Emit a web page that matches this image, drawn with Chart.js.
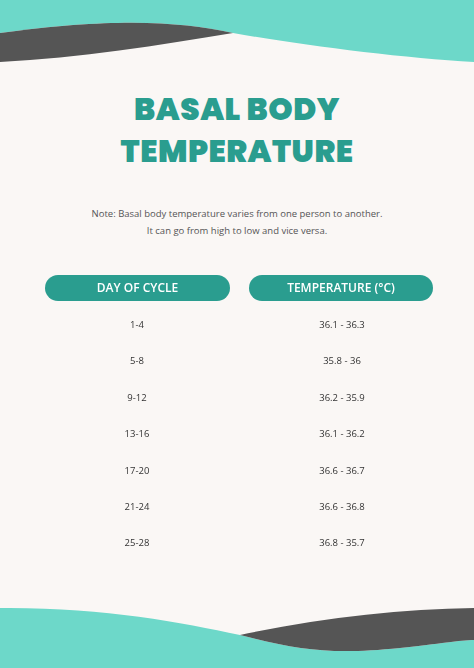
<!DOCTYPE html>
<html><head><meta charset="utf-8">
<script src="https://cdn.jsdelivr.net/npm/chart.js@4"></script>
<style>
html,body{margin:0;padding:0;width:474px;height:668px;background:#faf7f5;overflow:hidden;font-family:"Open Sans",sans-serif}
#bg{position:absolute;left:0;top:0}
h1{position:absolute;top:88px;left:0;width:474px;margin:0;text-align:center;color:#2a9d8f;font-family:Poppins,"Montserrat",Lato,sans-serif;font-weight:900;font-size:31px;line-height:42px;letter-spacing:0.5px}
.note{position:absolute;top:205px;left:0;width:474px;text-align:center;color:#555;font-size:9.5px;line-height:17px}
#wrap{position:absolute;left:0;top:262px;width:474px;height:300px}
</style></head><body>
<svg id="bg" width="474" height="668">
<path d="M0 0H474V62C400 58 300 45 233 33C180 22 120 17 0 33Z" fill="#6dd8c9"/>
<path d="M0 33C120 17 180 22 233 33C160 45 80 58 0 62Z" fill="#555555"/>
<path d="M0 608C100 607 180 622 240 635C300 650 330 655 400 648C440 644 460 640 474 640V668H0Z" fill="#6dd8c9"/>
<path d="M240 635C320 618 400 609 474 608V640C460 640 440 644 400 648C330 655 300 650 240 635Z" fill="#555555"/>
</svg>
<h1>BASAL BODY<br>TEMPERATURE</h1>
<div class="note">Note: Basal body temperature varies from one person to another.<br>It can go from high to low and vice versa.</div>
<div id="wrap"><canvas id="c"></canvas></div>
<script>
const headers = ["DAY OF CYCLE", "TEMPERATURE (°C)"];
const days = ["1-4","5-8","9-12","13-16","17-20","21-24","25-28"];
const temps = ["36.1 - 36.3","35.8 - 36","36.2 - 35.9","36.1 - 36.2","36.6 - 36.7","36.6 - 36.8","36.8 - 35.7"];

const tablePlugin = {
  id:'table',
  afterDraw(chart){
    const ctx = chart.ctx, y = chart.scales.y;
    const cols = [[45,230],[249,433]];
    ctx.save();
    ctx.textAlign='center'; ctx.textBaseline='middle';
    cols.forEach((c,i)=>{
      const top=13, h=26, r=13;
      ctx.fillStyle='#2a9d8f';
      ctx.beginPath(); ctx.roundRect(c[0],top,c[1]-c[0],h,r); ctx.fill();
      ctx.fillStyle='#ffffff'; ctx.font='600 12px "Open Sans"';
      ctx.fillText(headers[i],(c[0]+c[1])/2,top+h/2+0.5);
    });
    ctx.fillStyle='#333'; ctx.font='9.5px "Open Sans"';
    days.forEach((d,i)=>{
      const py = y.getPixelForValue(i);
      ctx.fillText(d,137,py);
      ctx.fillText(temps[i],342,py);
    });
    ctx.restore();
  }
};
new Chart(document.getElementById('c'),{
  type:'bar',
  data:{labels:days,datasets:[{data:days.map(()=>null)}]},
  options:{responsive:true,maintainAspectRatio:false,animation:false,
    layout:{padding:{top:45,bottom:0}},
    plugins:{legend:{display:false},tooltip:{enabled:false}},
    scales:{y:{type:'category',labels:days,display:false,offset:true},x:{display:false}}
  },
  plugins:[tablePlugin]
});
</script>
</body></html>
